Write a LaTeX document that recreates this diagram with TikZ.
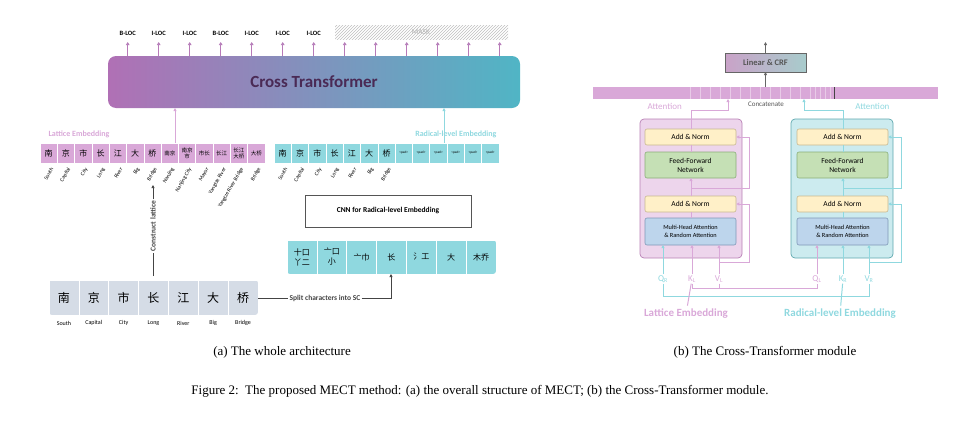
\documentclass[tikz,border=0pt]{standalone}
\usepackage{fontspec}
\setmainfont{Liberation Serif}
\newfontfamily\dsf{Carlito}
\newfontfamily\cjk{Noto Sans CJK SC}
\usetikzlibrary{patterns,arrows.meta}
\definecolor{lat}{HTML}{D9A8D8}
\definecolor{rad}{HTML}{8FD8DF}
\definecolor{gry}{HTML}{D5DCE6}
\definecolor{yel}{HTML}{FFF0C8}
\definecolor{grn}{HTML}{C5E0B5}
\definecolor{blu}{HTML}{BDD5EC}
\definecolor{arr}{HTML}{7FA8C8}
\definecolor{ctl}{HTML}{B070B5}
\definecolor{ctr}{HTML}{50B5C5}
\definecolor{ctt}{HTML}{4A2A55}
\definecolor{ctarr}{HTML}{B87AB8}
\definecolor{dk}{HTML}{444444}
\definecolor{dk5}{HTML}{555555}
\definecolor{dk6}{HTML}{666666}
\definecolor{crfl}{HTML}{C9A2C8}
\definecolor{crfr}{HTML}{A8CCCC}
\definecolor{lbf}{HTML}{EDD5EC}
\definecolor{lbd}{HTML}{B880B5}
\definecolor{rbf}{HTML}{CCEBEF}
\definecolor{rbd}{HTML}{5EA8AE}
\definecolor{yeld}{HTML}{C8B890}
\definecolor{grnd}{HTML}{8AAE78}
\definecolor{blud}{HTML}{8098B8}
\tikzset{
 cell/.style={draw=white,line width=0.6pt,minimum width=17.3pt,minimum height=20pt,inner sep=0pt,font=\cjk\fontsize{8}{8}\selectfont},
 rlab/.style={rotate=60,anchor=east,inner sep=0pt,font=\dsf\fontsize{5.5}{6}\selectfont},
 blab/.style={inner sep=0pt,font=\dsf\fontsize{6}{6}\selectfont},
 tlab/.style={inner sep=0pt,font=\dsf\bfseries\fontsize{6.5}{6.5}\selectfont},
 ib/.style={draw=#1,line width=0.6pt,rounded corners=2pt,minimum width=91pt,inner sep=0pt,font=\dsf\fontsize{7.5}{9}\selectfont,align=center},
 pl/.style={draw=lat,line width=1pt},
 tl/.style={draw=rad,line width=1pt},
 ah/.style={-{Triangle[length=3pt,width=3pt]}},
}
\begin{document}
\begin{tikzpicture}[x=1pt,y=-1pt]
\useasboundingbox (0,0) rectangle (964,434);
% ===== (a) =====
\shade[left color=ctl,right color=ctr,rounded corners=8pt] (108,56) rectangle (520,108);
\node (ct) at (314,82) {\dsf\bfseries\fontsize{17}{17}\selectfont\color{ctt}Cross Transformer};
\fill[pattern=north east lines,pattern color=gray!50] (335,25) rectangle (508,39);
\node[font=\dsf\fontsize{7.5}{7.5}\selectfont,text=gray!60] (mask) at (421,32) {MASK};
\foreach \i in {0,...,12}{
  \draw[draw=ctarr,line width=1pt,-{Triangle[length=3pt,width=3.5pt,fill=arr]}] (127.7+31*\i,56) -- (127.7+31*\i,42);
}
\foreach \t [count=\i from 0] in {B-LOC,I-LOC,I-LOC,B-LOC,I-LOC,I-LOC,I-LOC}{
  \node[tlab] (tag\i) at (127.7+31*\i,33) {\t};
}
% lattice
\node[font=\dsf\bfseries\fontsize{8}{8}\selectfont,text=lat,anchor=west] (latl) at (45,134) {Lattice Embedding};
\node[font=\dsf\bfseries\fontsize{8}{8}\selectfont,text=rad,anchor=east] (radl) at (500,134) {Radical-level Embedding};
\foreach \c [count=\i from 0] in {南,京,市,长,江,大,桥}{
  \node[cell,fill=lat] (L\i) at (48.65+17.3*\i,153) {\c};
  \node[cell,fill=rad] (R\i) at (282.7+17.3*\i,153) {\c};
}
\foreach \c [count=\i from 7] in {南京,南京\\市,市长,长江,长江\\大桥,大桥}{
  \node[cell,fill=lat,align=center,font=\cjk\fontsize{5.5}{6}\selectfont] (L\i) at (48.65+17.3*\i,153) {\c};
}
\foreach \i in {7,...,12}{
  \node[cell,fill=rad,font=\dsf\fontsize{3.5}{4}\selectfont] (R\i) at (282.7+17.3*\i,153) {<pad>};
}
\foreach \t [count=\i from 0] in {South,Capital,City,Long,River,Big,Bridge,Nanjing,Nanjing City,Mayor,Yangtze River,Yangtze River Bridge,Bridge}{
  \node[rlab] (LW\i) at (52+17.3*\i,168) {\t};
}
\foreach \t [count=\i from 0] in {South,Capital,City,Long,River,Big,Bridge}{
  \node[rlab] (RW\i) at (286+17.3*\i,168) {\t};
}
\coordinate (ctlc) at (175,108);
\coordinate (ctrc) at (444,108);
\draw[pl,ah] (175,143) -- (ctlc);
\draw[tl,ah] (444,143) -- (ctrc);
% CNN
\node[draw=dk5,line width=0.8pt,minimum width=166pt,minimum height=32pt,font=\dsf\bfseries\fontsize{7.5}{7.5}\selectfont] (cnn) at (388,211) {CNN for Radical-level Embedding};
\fill[rad,rounded corners=3pt] (287,240) rectangle (496,274);
\foreach \c [count=\i from 0] in {十口\\丫二,亠口\\小,亠巾,长,氵工,大,木乔}{
  \node[cell,fill=none,minimum width=29.86pt,minimum height=34pt,align=center,font=\cjk\fontsize{8}{10}\selectfont] (S\i) at (301.9+29.86*\i,257) {\c};
}
% bottom chars
\fill[gry,rounded corners=3pt] (49,280) rectangle (258,315);
\foreach \c [count=\i from 0] in {南,京,市,长,江,大,桥}{
  \node[cell,fill=none,minimum width=29.86pt,minimum height=35pt,font=\cjk\fontsize{12}{12}\selectfont] (B\i) at (63.9+29.86*\i,297.5) {\c};
}
\foreach \t [count=\i from 0] in {South,Capital,City,Long,River,Big,Bridge}{
  \node[blab] (BW\i) at (63.9+29.86*\i,323) {\t};
}
\node[rotate=90,font=\dsf\bfseries\fontsize{7.5}{7.5}\selectfont,text=dk,inner sep=1pt] (cl) at (153,226) {Construct lattice};
\draw[dk,line width=0.7pt] (153,276) -- (cl.west);
\draw[dk,line width=0.7pt,ah] (cl.east) -- (153,185);
\node[font=\dsf\bfseries\fontsize{7.5}{7.5}\selectfont,text=dk,inner sep=1pt] (sp) at (325,298) {Split characters into SC};
\draw[dk,line width=0.7pt] (258,298) -- (sp.west);
\draw[dk,line width=0.7pt,ah] (sp.east) -- (391,298) -- (391,274);
% ===== (b) =====
\node[font=\dsf\fontsize{9}{12}\selectfont,text=lat,align=left,anchor=north west] (lat) at (644,88) {Lattice\\Attention};
\node[font=\dsf\fontsize{9}{12}\selectfont,text=rad,align=right,anchor=north east] (rat) at (893,88) {Radical\\Attention};
\fill[lat] (593,87) rectangle (938,99);
\foreach \x in {690,700,710,720,730,740,750,760,770,780,790,800,810,815,820,825,830}{\draw[white,opacity=0.4,line width=0.3pt] (\x,87) -- (\x,99);}
\draw[dk,line width=0.6pt] (834,87) -- (834,99);
\node[font=\dsf\fontsize{7}{7}\selectfont,text=dk5] (cat) at (766,104) {Concatenate};
\shade[left color=crfl,right color=crfr,draw=dk6,line width=0.8pt] (725,53) rectangle (806,72);
\node[font=\dsf\bfseries\fontsize{8.5}{9}\selectfont,text=dk5] (crf) at (765.5,62.5) {Linear \& CRF};
\draw[dk6,line width=0.8pt,-{Triangle[length=3pt,width=3pt]}] (765.5,87) -- (765.5,72);
\draw[dk6,line width=0.8pt,-{Triangle[length=3pt,width=3pt]}] (765.5,53) -- (765.5,42);
% blocks
\draw[fill=lbf,draw=lbd,line width=0.7pt,rounded corners=4pt] (640,119) rectangle (742,258);
\draw[fill=rbf,draw=rbd,line width=0.7pt,rounded corners=4pt] (791,119) rectangle (893,258);
\foreach \cx/\nm in {690.5/l,842.5/r}{
  \node[ib=yeld,fill=yel,minimum height=16pt] (an2\nm) at (\cx,137) {Add \& Norm};
  \node[ib=grnd,fill=grn,minimum height=26pt] (ff\nm) at (\cx,165) {Feed-Forward\\Network};
  \node[ib=yeld,fill=yel,minimum height=16pt] (an1\nm) at (\cx,204) {Add \& Norm};
  \node[ib=blud,fill=blu,minimum height=27pt,font=\dsf\fontsize{6.3}{8}\selectfont] (mh\nm) at (\cx,231.5) {Multi-Head Attention\\\& Random Attention};
}
% left block wiring
\draw[pl] (691,218) -- (691,212);
\draw[pl,ah] (691,196) -- (691,178);
\draw[pl] (691,152) -- (691,145);
\draw[pl,ah] (691,129) -- (691,110) -- (728,110) -- (728,99);
\draw[pl,ah] (691,188) -- (749,188) -- (749,137) -- (an2l.east);
\draw[pl,ah] (719,262) -- (749,262) -- (749,204) -- (an1l.east);
% right block wiring
\draw[tl] (843,218) -- (843,212);
\draw[tl,ah] (843,196) -- (843,178);
\draw[tl] (843,152) -- (843,145);
\draw[tl,ah] (843,129) -- (843,110) -- (804,110) -- (804,99);
\draw[tl,ah] (843,188) -- (901,188) -- (901,137) -- (an2r.east);
\draw[tl,ah] (869,262) -- (901,262) -- (901,204) -- (an1r.east);
% QKV
\node[font=\dsf\fontsize{9}{9}\selectfont,text=rad,inner sep=1pt] (qr) at (663,279) {Q\textsubscript{R}};
\node[font=\dsf\fontsize{9}{9}\selectfont,text=lat,inner sep=1pt] (kl) at (692,279) {K\textsubscript{L}};
\node[font=\dsf\fontsize{9}{9}\selectfont,text=lat,inner sep=1pt] (vl) at (719,279) {V\textsubscript{L}};
\node[font=\dsf\fontsize{9}{9}\selectfont,text=lat,inner sep=1pt] (ql) at (817,279) {Q\textsubscript{L}};
\node[font=\dsf\fontsize{9}{9}\selectfont,text=rad,inner sep=1pt] (kr) at (843,279) {K\textsubscript{R}};
\node[font=\dsf\fontsize{9}{9}\selectfont,text=rad,inner sep=1pt] (vr) at (869,279) {V\textsubscript{R}};
\draw[tl,ah] (qr) -- (663,245);
\draw[pl,ah] (kl) -- (692,245);
\draw[pl,ah] (vl) -- (719,245);
\draw[pl,ah] (ql) -- (817,245);
\draw[tl,ah] (kr) -- (843,245);
\draw[tl,ah] (vr) -- (869,245);
\node[font=\dsf\bfseries\fontsize{11}{11}\selectfont,text=lat] (le) at (686,314) {Lattice Embedding};
\node[font=\dsf\bfseries\fontsize{11}{11}\selectfont,text=rad] (re) at (840,314) {Radical-level Embedding};
\draw[tl] (qr) -- (663,296) -- (869,296) -- (vr);
\draw[tl] (kr) -- (re);
\draw[pl] (kl) -- (692,288) -- (817,288) -- (ql);
\draw[pl] (vl) -- (719,288);
\draw[pl] (kl) -- (le);
% captions
\node[font=\fontsize{13}{14}\selectfont] (capa) at (282,352) {(a) The whole architecture};
\node[font=\fontsize{13}{14}\selectfont] (capb) at (765,352) {(b) The Cross-Transformer module};
\node[font=\fontsize{13}{14}\selectfont] (fig) at (480,391) {Figure 2:\ \ The proposed MECT method: (a) the overall structure of MECT; (b) the Cross-Transformer module.};
\end{tikzpicture}
\end{document}
